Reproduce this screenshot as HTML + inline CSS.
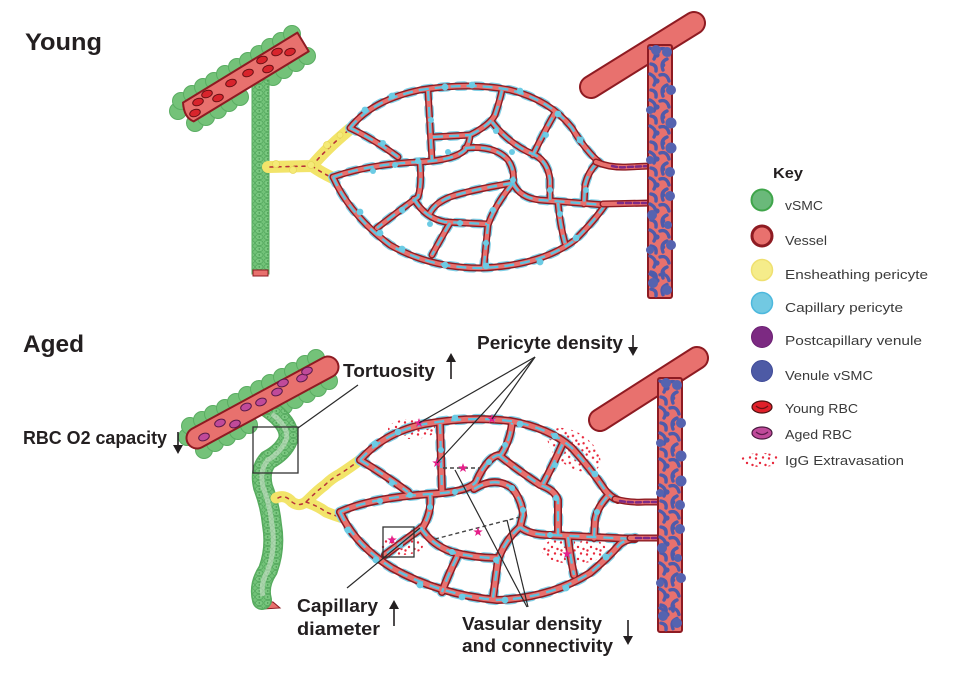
<!DOCTYPE html>
<html><head><meta charset="utf-8"><style>
html,body{margin:0;padding:0;background:#fff;}
svg{display:block;}
text{font-family:"Liberation Sans",Arial,sans-serif;}
</style></head><body>
<svg width="960" height="673" viewBox="0 0 960 673" xmlns="http://www.w3.org/2000/svg" font-family="Liberation Sans, Arial, sans-serif">
<defs>
<pattern id="cells" patternUnits="userSpaceOnUse" width="8.5" height="6">
<rect width="8.5" height="6" fill="#72c278"/>
<ellipse cx="4.25" cy="3" rx="3.8" ry="2.6" fill="#79c77f" stroke="#4a9f55" stroke-width="0.6"/>
<circle cx="4.25" cy="3" r="0.7" fill="#3d8a46"/>
</pattern>
<pattern id="dots" patternUnits="userSpaceOnUse" width="13" height="12">
<circle cx="2" cy="2.5" r="1.2" fill="#e8283c"/>
<circle cx="9" cy="1.5" r="1.2" fill="#e8283c"/>
<circle cx="6" cy="7" r="1.2" fill="#e8283c"/>
<circle cx="11.5" cy="9" r="1.2" fill="#e8283c"/>
<circle cx="2.5" cy="10.5" r="1.2" fill="#e8283c"/>
</pattern>
<g id="vrow">
<g stroke="#4e5bab" stroke-width="3.4" fill="none" stroke-linecap="round">
<path d="M2,2 Q10,6 6,13"/>
<path d="M12,3 Q19,1 21,9"/>
<path d="M19,13 Q12,16 15,24"/>
<path d="M3,18 Q9,19 8,25"/>
</g>
<circle cx="9" cy="9" r="2.6" fill="#4e5bab"/>
<circle cx="15" cy="19" r="2.3" fill="#4e5bab"/>
</g>
<polygon id="star" points="0,-5 1.18,-1.62 4.76,-1.55 1.9,0.62 2.94,4.05 0,2 -2.94,4.05 -1.9,0.62 -4.76,-1.55 -1.18,-1.62" fill="#e5208a"/>
<g id="yn">
<path d="M350,128 Q372,100 420,90 Q470,82 510,90 Q550,100 572,128 Q585,150 600,163"/>
<path d="M333,177 Q350,215 390,245 Q430,268 480,268 Q540,266 575,240 Q595,220 605,205"/>
<path d="M350,128 Q375,140 398,157"/>
<path d="M333,177 Q370,164 420,162 Q455,160 465,150 Q470,142 470,135"/>
<path d="M428,91 L432,160"/>
<path d="M433,137 L470,135"/>
<path d="M470,135 Q490,125 495,115 Q500,100 502,90"/>
<path d="M492,122 Q510,145 535,155 Q548,162 550,180 L550,200"/>
<path d="M533,155 Q545,130 555,113"/>
<path d="M465,148 Q495,145 508,160 Q515,170 513,183"/>
<path d="M513,183 Q470,190 450,197 Q435,203 430,213"/>
<path d="M513,183 Q495,205 488,225 L484,265"/>
<path d="M513,183 Q520,198 540,200 L605,205"/>
<path d="M420,162 Q422,185 418,197 Q400,210 377,228"/>
<path d="M414,199 Q425,218 445,222 L487,224"/>
<path d="M450,223 Q440,240 432,255"/>
<path d="M558,203 Q560,225 565,243"/>
<path d="M597,163 Q588,172 585,185 L584,204"/>
</g>
<g id="an">
<path d="M360,460 Q385,432 425,424 Q470,416 510,421 Q550,428 572,448 Q590,468 605,490 Q610,497 618,500"/>
<path d="M340,512 Q355,545 392,568 Q440,595 497,600 Q550,598 590,573 Q608,558 620,544 Q625,540 635,538"/>
<path d="M360,460 Q385,475 408,492"/>
<path d="M340,512 Q370,498 430,494 Q468,492 476,482 Q482,468 490,460 Q495,455 500,455"/>
<path d="M440,424 L442,493"/>
<path d="M500,456 Q510,442 512,423"/>
<path d="M500,456 Q515,468 540,485 Q555,490 558,500 L558,535"/>
<path d="M543,484 Q553,465 563,443"/>
<path d="M474,489 Q495,476 512,488 Q522,500 523,515 L520,527"/>
<path d="M520,527 Q505,540 498,560 L493,598"/>
<path d="M520,527 Q530,535 550,535 L635,539"/>
<path d="M430,495 Q432,512 423,527 Q405,540 385,555"/>
<path d="M421,528 Q432,545 452,552 Q475,558 498,558"/>
<path d="M457,557 Q448,575 442,592"/>
<path d="M607,497 Q597,508 595,520 L594,538"/>
<path d="M568,537 Q570,555 574,575"/>
</g>
</defs>

<!-- ============ YOUNG ============ -->
<text x="25" y="50" font-size="24" font-weight="bold" fill="#231f20" textLength="77" lengthAdjust="spacingAndGlyphs">Young</text>

<g fill="#74c279" stroke="#5aad62" stroke-width="1">
<circle cx="178" cy="111" r="8.5"/>
<circle cx="181" cy="101" r="8.5"/><circle cx="192" cy="94" r="8.5"/><circle cx="203" cy="87" r="8.5"/><circle cx="214" cy="81" r="8.5"/><circle cx="225" cy="74" r="8.5"/><circle cx="237" cy="67" r="8.5"/><circle cx="248" cy="61" r="8.5"/><circle cx="259" cy="54" r="8.5"/><circle cx="270" cy="47" r="8.5"/><circle cx="281" cy="41" r="8.5"/><circle cx="292" cy="34" r="8.5"/>
<circle cx="195" cy="123" r="8.5"/><circle cx="206" cy="117" r="8.5"/><circle cx="218" cy="110" r="8.5"/><circle cx="229" cy="103" r="8.5"/><circle cx="240" cy="97" r="8.5"/><circle cx="273" cy="77" r="8.5"/><circle cx="284" cy="70" r="8.5"/><circle cx="296" cy="63" r="8.5"/><circle cx="307" cy="56" r="8.5"/>
</g>
<rect x="252" y="80" width="17" height="194" fill="url(#cells)" stroke="#56ab5e" stroke-width="1"/>
<rect x="253" y="270" width="15" height="6" fill="#e8716e" stroke="#8e1b22" stroke-width="1"/>
<path d="M183,102.6 L297.4,32.6 L308.7,51.4 L193.7,121.4 Q184,118 183,102.6 Z" fill="#e8716e" stroke="#8e1b22" stroke-width="2" stroke-linejoin="round"/>
<g fill="#d8242c" stroke="#6a1015" stroke-width="1">
<ellipse cx="195" cy="113" rx="5.5" ry="3.5" transform="rotate(-20 195 113)"/>
<ellipse cx="198" cy="102" rx="5.5" ry="3.5" transform="rotate(-20 198 102)"/>
<ellipse cx="207" cy="94" rx="5.5" ry="3.5" transform="rotate(-20 207 94)"/>
<ellipse cx="218" cy="98" rx="5.5" ry="3.5" transform="rotate(-20 218 98)"/>
<ellipse cx="231" cy="83" rx="5.5" ry="3.5" transform="rotate(-20 231 83)"/>
<ellipse cx="248" cy="73" rx="5.5" ry="3.5" transform="rotate(-20 248 73)"/>
<ellipse cx="262" cy="60" rx="5.5" ry="3.5" transform="rotate(-20 262 60)"/>
<ellipse cx="268" cy="69" rx="5.5" ry="3.5" transform="rotate(-20 268 69)"/>
<ellipse cx="277" cy="52" rx="5.5" ry="3.5" transform="rotate(-20 277 52)"/>
<ellipse cx="290" cy="52" rx="5.5" ry="3.5" transform="rotate(-20 290 52)"/>
</g>

<g fill="none" stroke-linecap="round" stroke-linejoin="round">
<path d="M268,167 L312,166 M312,166 Q325,150 350,129 M312,166 Q322,173 333,178" stroke="#f2e46a" stroke-width="12"/>
<path d="M270,167 L312,166 M312,166 Q325,150 350,129 M312,166 Q322,173 333,178" stroke="#b8323a" stroke-width="1.6" stroke-dasharray="3 5"/>
</g>
<g fill="#f5ea78" stroke="#e8d85a" stroke-width="0.8">
<circle cx="276" cy="164" r="3.5"/><circle cx="293" cy="170" r="3.5"/><circle cx="311" cy="165" r="3.5"/><circle cx="327" cy="145" r="3.5"/><circle cx="340" cy="135" r="3"/>
</g>

<use href="#yn" fill="none" stroke="#7fcfe6" stroke-width="9.5" stroke-dasharray="7 10" stroke-linecap="round"/>
<use href="#yn" fill="none" stroke="#8e1b22" stroke-width="7" stroke-linecap="round" stroke-linejoin="round"/>
<use href="#yn" fill="none" stroke="#e8716e" stroke-width="4.2" stroke-linecap="round" stroke-linejoin="round"/>
<use href="#yn" fill="none" stroke="#5ec2e0" stroke-width="2.3" stroke-dasharray="10 6"/>
<g fill="none" stroke-linecap="round">
<path d="M596,162 Q610,168 628,167 L650,166 M603,204 L650,203" stroke="#8e1b22" stroke-width="7"/>
<path d="M596,162 Q610,168 628,167 L650,166 M603,204 L650,203" stroke="#e8716e" stroke-width="4.2"/>
<path d="M612,166 Q620,168 628,167 L650,166 M618,203 L650,203" stroke="#7d2b86" stroke-width="2.5" stroke-dasharray="5 3"/>
</g>
<g fill="#6ccbe4">
<circle cx="365" cy="110" r="3.4"/><circle cx="392" cy="96" r="3.4"/><circle cx="445" cy="87" r="3.4"/><circle cx="472" cy="85" r="3.4"/><circle cx="520" cy="91" r="3.4"/><circle cx="558" cy="114" r="3.4"/><circle cx="580" cy="140" r="3.4"/>
<circle cx="360" cy="212" r="3.4"/><circle cx="380" cy="233" r="3.4"/><circle cx="402" cy="249" r="3.4"/><circle cx="445" cy="265" r="3.4"/><circle cx="486" cy="266" r="3.4"/><circle cx="540" cy="262" r="3.4"/><circle cx="576" cy="238" r="3.4"/>
<circle cx="373" cy="171" r="3"/><circle cx="395" cy="165" r="3"/><circle cx="418" cy="161" r="3"/><circle cx="448" cy="152" r="3"/><circle cx="496" cy="131" r="3"/><circle cx="512" cy="152" r="3"/><circle cx="513" cy="180" r="3"/><circle cx="493" cy="210" r="3"/><circle cx="486" cy="243" r="3"/><circle cx="460" cy="223" r="3"/><circle cx="430" cy="224" r="3"/><circle cx="560" cy="214" r="3"/><circle cx="586" cy="190" r="3"/><circle cx="383" cy="143" r="3"/><circle cx="431" cy="120" r="3"/><circle cx="546" cy="135" r="3"/><circle cx="550" cy="190" r="3"/><circle cx="402" cy="210" r="3"/>
</g>

<!-- young venule T -->
<line x1="591" y1="87" x2="694" y2="23" stroke="#8e1b22" stroke-width="24" stroke-linecap="round"/>
<line x1="591" y1="87" x2="694" y2="23" stroke="#e8716e" stroke-width="20" stroke-linecap="round"/>
<rect x="648" y="45" width="24" height="253" rx="2" fill="#e8716e" stroke="#8e1b22" stroke-width="2"/>
<g>
<use href="#vrow" transform="translate(648 46)"/><use href="#vrow" transform="translate(648 72)"/><use href="#vrow" transform="translate(648 98)"/><use href="#vrow" transform="translate(648 124)"/><use href="#vrow" transform="translate(648 150)"/><use href="#vrow" transform="translate(648 176)"/><use href="#vrow" transform="translate(648 202)"/><use href="#vrow" transform="translate(648 228)"/><use href="#vrow" transform="translate(648 254)"/><use href="#vrow" transform="translate(648 272) scale(1 0.95)"/>
</g>
<g fill="#5563b0">
<circle cx="656" cy="50" r="5"/><circle cx="667" cy="52" r="5"/><circle cx="671" cy="90" r="5"/><circle cx="671" cy="123" r="5.5"/><circle cx="671" cy="148" r="5.5"/><circle cx="670" cy="172" r="5"/><circle cx="670" cy="196" r="5"/><circle cx="652" cy="215" r="5"/><circle cx="671" cy="245" r="5"/><circle cx="653" cy="283" r="5"/><circle cx="667" cy="290" r="5"/>
<circle cx="650" cy="110" r="4"/><circle cx="650" cy="160" r="4"/><circle cx="650" cy="250" r="4"/><circle cx="668" cy="225" r="4"/>
</g>

<!-- ============ AGED ============ -->
<text x="23" y="352" font-size="24" font-weight="bold" fill="#231f20" textLength="61" lengthAdjust="spacingAndGlyphs">Aged</text>

<g fill="#74c279" stroke="#5aad62" stroke-width="1">
<circle cx="187" cy="437" r="8.5"/>
<circle cx="190" cy="426" r="8.5"/><circle cx="202" cy="420" r="8.5"/><circle cx="213" cy="414" r="8.5"/><circle cx="225" cy="408" r="8.5"/><circle cx="236" cy="402" r="8.5"/><circle cx="247" cy="395" r="8.5"/><circle cx="259" cy="389" r="8.5"/><circle cx="270" cy="383" r="8.5"/><circle cx="282" cy="377" r="8.5"/><circle cx="293" cy="371" r="8.5"/><circle cx="305" cy="364" r="8.5"/><circle cx="316" cy="358" r="8.5"/>
<circle cx="204" cy="450" r="8.5"/><circle cx="215" cy="443" r="8.5"/><circle cx="227" cy="437" r="8.5"/><circle cx="238" cy="431" r="8.5"/><circle cx="249" cy="425" r="8.5"/><circle cx="284" cy="406" r="8.5"/><circle cx="295" cy="400" r="8.5"/><circle cx="307" cy="394" r="8.5"/><circle cx="318" cy="388" r="8.5"/><circle cx="329" cy="381" r="8.5"/>
</g>
<path d="M261,601 L273,602 L280,608 L263,609 Z" fill="#e8716e" stroke="#8e1b22" stroke-width="1"/>
<path d="M268,408 Q292,425 288,440 Q283,452 268,460 Q259,470 263,487 Q270,505 272,525 Q276,548 268,570 Q258,585 262,600" fill="none" stroke="#56ab5e" stroke-width="20" stroke-linecap="round"/>
<path d="M268,408 Q292,425 288,440 Q283,452 268,460 Q259,470 263,487 Q270,505 272,525 Q276,548 268,570 Q258,585 262,600" fill="none" stroke="url(#cells)" stroke-width="17" stroke-linecap="round"/>
<path d="M272,414 Q290,428 286,440 Q281,452 268,460 Q259,470 263,487 Q270,505 272,525 Q276,548 268,570 Q260,584 263,596" fill="none" stroke="#d6e3d4" stroke-width="5" opacity="0.55"/>
<line x1="197" y1="438" x2="328" y2="367" stroke="#8e1b22" stroke-width="23" stroke-linecap="round"/>
<line x1="197" y1="438" x2="328" y2="367" stroke="#e8716e" stroke-width="19" stroke-linecap="round"/>
<g fill="#c04a9a" stroke="#5a1a4a" stroke-width="1">
<ellipse cx="204" cy="437" rx="5.5" ry="3.6" transform="rotate(-20 204 437)"/>
<ellipse cx="220" cy="423" rx="5.5" ry="3.6" transform="rotate(-20 220 423)"/>
<ellipse cx="235" cy="424" rx="5.5" ry="3.6" transform="rotate(-20 235 424)"/>
<ellipse cx="246" cy="407" rx="5.5" ry="3.6" transform="rotate(-20 246 407)"/>
<ellipse cx="261" cy="402" rx="5.5" ry="3.6" transform="rotate(-20 261 402)"/>
<ellipse cx="277" cy="392" rx="5.5" ry="3.6" transform="rotate(-20 277 392)"/>
<ellipse cx="283" cy="383" rx="5.5" ry="3.6" transform="rotate(-20 283 383)"/>
<ellipse cx="302" cy="378" rx="5.5" ry="3.6" transform="rotate(-20 302 378)"/>
<ellipse cx="307" cy="371" rx="5.5" ry="3.6" transform="rotate(-20 307 371)"/>
</g>

<g fill="none" stroke-linecap="round" stroke-linejoin="round">
<path d="M276,498 Q285,494 292,502 Q300,508 308,500 Q318,490 325,485 Q332,478 340,474 Q352,466 360,460 M306,502 Q318,506 326,512 Q336,516 343,518" stroke="#f2e46a" stroke-width="11"/>
<path d="M278,498 Q285,494 292,502 Q300,508 308,500 Q318,490 325,485 Q332,478 340,474 Q352,466 360,460 M306,502 Q318,506 326,512 Q336,516 343,518" stroke="#b8323a" stroke-width="1.5" stroke-dasharray="3 5"/>
</g>

<ellipse cx="412" cy="429" rx="24" ry="10" fill="url(#dots)"/>
<ellipse cx="574" cy="450" rx="30" ry="17" transform="rotate(35 574 450)" fill="url(#dots)"/>
<ellipse cx="574" cy="550" rx="32" ry="14" fill="url(#dots)"/>
<ellipse cx="401" cy="546" rx="22" ry="9" fill="url(#dots)"/>

<use href="#an" fill="none" stroke="#7fcfe6" stroke-width="10.5" stroke-dasharray="7 11" stroke-linecap="round"/>
<use href="#an" fill="none" stroke="#8e1b22" stroke-width="8" stroke-linecap="round" stroke-linejoin="round"/>
<use href="#an" fill="none" stroke="#e8716e" stroke-width="5" stroke-linecap="round" stroke-linejoin="round"/>
<use href="#an" fill="none" stroke="#5ec2e0" stroke-width="2.3" stroke-dasharray="10 7"/>
<g fill="none" stroke-linecap="round">
<path d="M615,499 Q630,503 645,502 L660,502 M630,538 L660,538" stroke="#8e1b22" stroke-width="7"/>
<path d="M615,499 Q630,503 645,502 L660,502 M630,538 L660,538" stroke="#e8716e" stroke-width="4.2"/>
<path d="M620,501 Q630,503 645,502 L660,502 M636,538 L660,538" stroke="#7d2b86" stroke-width="2.5" stroke-dasharray="5 3"/>
</g>
<g fill="#6ccbe4">
<circle cx="375" cy="444" r="3.4"/><circle cx="398" cy="432" r="3.4"/><circle cx="455" cy="418" r="3.4"/><circle cx="520" cy="424" r="3.4"/><circle cx="555" cy="436" r="3.4"/><circle cx="595" cy="474" r="3.4"/>
<circle cx="348" cy="530" r="3.4"/><circle cx="376" cy="560" r="3.4"/><circle cx="420" cy="585" r="3.4"/><circle cx="462" cy="597" r="3.4"/><circle cx="505" cy="600" r="3.4"/><circle cx="566" cy="588" r="3.4"/><circle cx="606" cy="557" r="3.4"/>
<circle cx="380" cy="501" r="3"/><circle cx="410" cy="495" r="3"/><circle cx="455" cy="492" r="3"/><circle cx="489" cy="462" r="3"/><circle cx="505" cy="445" r="3"/><circle cx="512" cy="488" r="3"/><circle cx="523" cy="510" r="3"/><circle cx="430" cy="507" r="3"/><circle cx="400" cy="545" r="3"/><circle cx="452" cy="552" r="3"/><circle cx="496" cy="560" r="3"/><circle cx="550" cy="535" r="3"/><circle cx="597" cy="512" r="3"/><circle cx="556" cy="498" r="3"/><circle cx="555" cy="465" r="3"/><circle cx="441" cy="450" r="3"/><circle cx="392" cy="483" r="3"/>
</g>

<!-- aged venule T -->
<line x1="600" y1="420" x2="697" y2="358" stroke="#8e1b22" stroke-width="24" stroke-linecap="round"/>
<line x1="600" y1="420" x2="697" y2="358" stroke="#e8716e" stroke-width="20" stroke-linecap="round"/>
<rect x="658" y="378" width="24" height="254" rx="2" fill="#e8716e" stroke="#8e1b22" stroke-width="2"/>
<g>
<use href="#vrow" transform="translate(658 379)"/><use href="#vrow" transform="translate(658 405)"/><use href="#vrow" transform="translate(658 431)"/><use href="#vrow" transform="translate(658 457)"/><use href="#vrow" transform="translate(658 483)"/><use href="#vrow" transform="translate(658 509)"/><use href="#vrow" transform="translate(658 535)"/><use href="#vrow" transform="translate(658 561)"/><use href="#vrow" transform="translate(658 587)"/><use href="#vrow" transform="translate(658 606) scale(1 0.95)"/>
</g>
<g fill="#5563b0">
<circle cx="666" cy="383" r="5"/><circle cx="677" cy="385" r="5"/><circle cx="681" cy="423" r="5"/><circle cx="681" cy="456" r="5.5"/><circle cx="681" cy="481" r="5.5"/><circle cx="680" cy="505" r="5"/><circle cx="680" cy="529" r="5"/><circle cx="662" cy="548" r="5"/><circle cx="681" cy="578" r="5"/><circle cx="663" cy="616" r="5"/><circle cx="677" cy="623" r="5"/>
<circle cx="660" cy="443" r="4"/><circle cx="660" cy="493" r="4"/><circle cx="660" cy="583" r="4"/><circle cx="678" cy="558" r="4"/>
</g>

<g stroke="#444" stroke-width="1.4" stroke-dasharray="4 3" fill="none">
<line x1="443" y1="468" x2="480" y2="468"/>
<line x1="435" y1="539" x2="520" y2="517"/>
</g>
<use href="#star" transform="translate(419 423)"/>
<use href="#star" transform="translate(492 419)"/>
<use href="#star" transform="translate(437 463)"/>
<use href="#star" transform="translate(463 468)"/>
<use href="#star" transform="translate(478 532)"/>
<use href="#star" transform="translate(392 540)"/>
<use href="#star" transform="translate(567 554)"/>

<rect x="253" y="427" width="45" height="46" fill="none" stroke="#333" stroke-width="1.3"/>
<rect x="383" y="527" width="31" height="30" fill="none" stroke="#333" stroke-width="1.3"/>

<g stroke="#2a2a2a" stroke-width="1.2" fill="none">
<line x1="298" y1="428" x2="358" y2="385"/>
<line x1="347" y1="588" x2="420" y2="528"/>
<line x1="535" y1="357" x2="419" y2="423"/>
<line x1="535" y1="357" x2="437" y2="463"/>
<line x1="535" y1="357" x2="492" y2="419"/>
<line x1="527" y1="607" x2="455" y2="470"/>
<line x1="528" y1="607" x2="507" y2="520"/>
</g>

<g font-weight="bold" fill="#231f20" font-size="18" font-family="Liberation Sans, Arial, sans-serif">
<text x="23" y="444" textLength="144" lengthAdjust="spacingAndGlyphs">RBC O2 capacity</text>
<text x="343" y="377" textLength="92" lengthAdjust="spacingAndGlyphs">Tortuosity</text>
<text x="477" y="349" textLength="146" lengthAdjust="spacingAndGlyphs">Pericyte density</text>
<text x="297" y="612" textLength="81" lengthAdjust="spacingAndGlyphs">Capillary</text>
<text x="297" y="635" textLength="83" lengthAdjust="spacingAndGlyphs">diameter</text>
<text x="462" y="630" textLength="140" lengthAdjust="spacingAndGlyphs">Vasular density</text>
<text x="462" y="652" textLength="151" lengthAdjust="spacingAndGlyphs">and connectivity</text>
</g>
<g stroke="#231f20" stroke-width="1.6" fill="#231f20">
<line x1="178" y1="432" x2="178" y2="446"/><polygon points="173,445 183,445 178,454" stroke="none"/>
<line x1="451" y1="361" x2="451" y2="379"/><polygon points="446,362 456,362 451,353" stroke="none"/>
<line x1="633" y1="335" x2="633" y2="348"/><polygon points="628,347 638,347 633,356" stroke="none"/>
<line x1="394" y1="608" x2="394" y2="626"/><polygon points="389,609 399,609 394,600" stroke="none"/>
<line x1="628" y1="620" x2="628" y2="637"/><polygon points="623,636 633,636 628,645" stroke="none"/>
</g>

<!-- ============ KEY ============ -->
<text x="773" y="178" font-size="15" font-weight="bold" fill="#231f20" textLength="30" lengthAdjust="spacingAndGlyphs">Key</text>
<circle cx="762" cy="200" r="10.5" fill="#6ab97a" stroke="#3fa54a" stroke-width="2"/>
<circle cx="762" cy="236" r="10" fill="#e8716e" stroke="#8e1b22" stroke-width="3"/>
<circle cx="762" cy="270" r="10.5" fill="#f5ec8a" stroke="#efe070" stroke-width="1.5"/>
<circle cx="762" cy="303" r="10.5" fill="#72c9e2" stroke="#4cb8dd" stroke-width="1.5"/>
<circle cx="762" cy="337" r="10.5" fill="#7c2a82" stroke="#6a1f72" stroke-width="1"/>
<circle cx="762" cy="371" r="10.5" fill="#4d5aa5" stroke="#3f4a98" stroke-width="1"/>
<ellipse cx="762" cy="407" rx="10" ry="6" fill="#e0202a" stroke="#4a1010" stroke-width="1.2"/>
<path d="M756,406 Q762,411 768,406" fill="none" stroke="#6a1015" stroke-width="1.2"/>
<ellipse cx="762" cy="433" rx="10" ry="6" fill="#c04a9a" stroke="#4a1a40" stroke-width="1.2"/>
<path d="M756,432 Q762,437 768,432" fill="none" stroke="#5a1a4a" stroke-width="1.2"/>
<ellipse cx="761" cy="460" rx="20" ry="7" fill="url(#dots)"/>
<g font-size="13" fill="#3a3a3a" font-family="Liberation Sans, Arial, sans-serif">
<text x="785" y="210" textLength="38" lengthAdjust="spacingAndGlyphs">vSMC</text>
<text x="785" y="245" textLength="42" lengthAdjust="spacingAndGlyphs">Vessel</text>
<text x="785" y="279" textLength="143" lengthAdjust="spacingAndGlyphs">Ensheathing pericyte</text>
<text x="785" y="312" textLength="118" lengthAdjust="spacingAndGlyphs">Capillary pericyte</text>
<text x="785" y="345" textLength="137" lengthAdjust="spacingAndGlyphs">Postcapillary venule</text>
<text x="785" y="380" textLength="88" lengthAdjust="spacingAndGlyphs">Venule vSMC</text>
<text x="785" y="413" textLength="73" lengthAdjust="spacingAndGlyphs">Young RBC</text>
<text x="785" y="439" textLength="67" lengthAdjust="spacingAndGlyphs">Aged RBC</text>
<text x="785" y="465" textLength="119" lengthAdjust="spacingAndGlyphs">IgG Extravasation</text>
</g>
</svg>
</body></html>
